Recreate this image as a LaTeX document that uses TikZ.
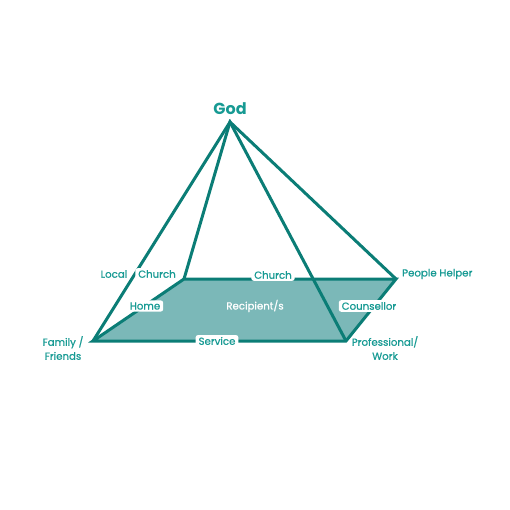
\documentclass[tikz,border=0pt]{standalone}
\usepackage{fontspec}
\setmainfont{Poppins}
\newfontfamily\lblfont{Poppins}[FakeBold=0.8]
\definecolor{edgec}{HTML}{0B7D76}
\definecolor{fillc}{HTML}{7BB8B8}
\definecolor{textc}{HTML}{179A93}
\begin{document}
\begin{tikzpicture}[x=1pt,y=-1pt,
  lbl/.style={text=textc,font=\lblfont\fontsize{10.2}{12}\selectfont,inner sep=1pt},
  boxlbl/.style={lbl,fill=white,rounded corners=2.5pt,inner xsep=3pt,inner ysep=2pt},
  edge/.style={draw=edgec,line width=3pt,line join=miter}]
\useasboundingbox (0,0) rectangle (510,510);
\coordinate (A) at (230,122);
\coordinate (BL) at (184,279);
\coordinate (BR) at (396,279);
\coordinate (FL) at (93,341);
\coordinate (FR) at (346,341);
\fill[fillc] (BL) -- (BR) -- (FR) -- (FL) -- cycle;
\draw[edge] (BL) -- (BR) -- (FR) -- (FL) -- cycle;
\draw[edge] (FL) -- (A) -- (FR);
\draw[edge] (BL) -- (A) -- (BR);
\node[text=textc,font=\fontsize{16}{18}\selectfont\bfseries] (god) at (230,109) {God};
\node[lbl] (local) at (114,274) {Local};
\node[boxlbl] (church1) at (157,274) {Church};
\node[boxlbl] (church2) at (273,275) {Church};
\node[lbl,anchor=west] (people) at (401,274) {People Helper};
\node[boxlbl] (home) at (145,306) {Home};
\node[lbl,text=white] (recip) at (255,306) {Recipient/s};
\node[boxlbl] (couns) at (369,306) {Counsellor};
\node[lbl,align=center,font=\lblfont\fontsize{10.2}{14}\selectfont] (family) at (63,348) {Family /\\Friends};
\node[boxlbl] (service) at (217,341) {Service};
\node[lbl,align=center,font=\lblfont\fontsize{10.2}{14}\selectfont] (prof) at (385,348) {Professional/\\Work};
\end{tikzpicture}
\end{document}
